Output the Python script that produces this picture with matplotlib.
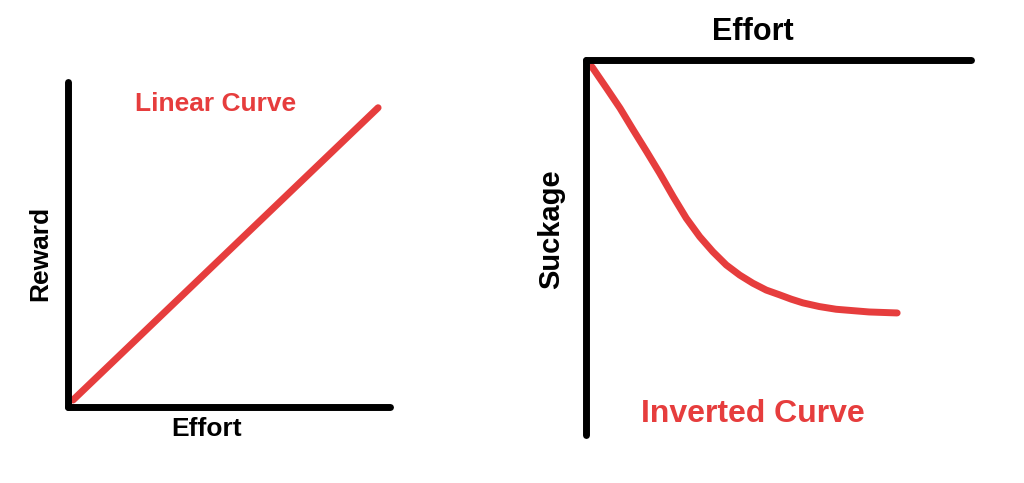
import matplotlib
matplotlib.use("Agg")
import matplotlib.pyplot as plt

# Data
linear_effort = [0, 10]
linear_reward = [0, 10]

inv_effort = [0, 0.48, 0.92, 1.35, 1.79, 2.22, 2.66, 3.09, 3.53, 3.96, 4.40,
              4.84, 5.27, 5.71, 6.14, 6.53, 6.91, 7.45, 8.00, 9.08, 10.0]
inv_suckage = [10, 9.13, 8.32, 7.44, 6.56, 5.68, 4.73, 3.85, 3.10, 2.49, 1.95,
               1.54, 1.21, 0.93, 0.74, 0.56, 0.41, 0.26, 0.15, 0.04, 0.0]

RED = "#e63d3d"
FONT = "Liberation Sans"
W, H = 1024, 483

fig = plt.figure(figsize=(W / 100, H / 100), dpi=100)
fig.patch.set_facecolor("white")


def box(x0, y0, x1, y1):
    return [x0 / W, 1 - y1 / H, (x1 - x0) / W, (y1 - y0) / H]


# Left panel
ax1 = fig.add_axes(box(68, 82, 390, 407))
ax1.plot(linear_effort, linear_reward, color=RED, lw=5.0, solid_capstyle="round")
ax1.set_xlim(-0.164, 10.39)
ax1.set_ylim(-0.238, 10.88)
for s in ["top", "right"]:
    ax1.spines[s].set_visible(False)
for s in ["left", "bottom"]:
    ax1.spines[s].set_linewidth(5.0)
    ax1.spines[s].set_color("black")
    ax1.spines[s].set_capstyle("round")
ax1.set_xticks([])
ax1.set_yticks([])
ax1.patch.set_alpha(0)

# Right panel
ax2 = fig.add_axes(box(586, 60, 971, 435))
ax2.plot(inv_effort, inv_suckage, color=RED, lw=5.0, solid_capstyle="round",
         solid_joinstyle="round")
ax2.set_xlim(-0.196, 12.42)
ax2.set_ylim(-4.96, 10.28)
for s in ["bottom", "right"]:
    ax2.spines[s].set_visible(False)
for s in ["left", "top"]:
    ax2.spines[s].set_linewidth(5.0)
    ax2.spines[s].set_color("black")
    ax2.spines[s].set_capstyle("round")
ax2.set_xticks([])
ax2.set_yticks([])
ax2.patch.set_alpha(0)


def ftext(x, y, s, **kw):
    fig.text(x / W, 1 - y / H, s, family=FONT, weight="bold",
             ha="center", va="center", **kw)


ftext(216, 104, "Linear Curve", color=RED, fontsize=19)
ftext(40, 253, "Reward", color="black", fontsize=19, rotation=90)
ftext(207, 429, "Effort", color="black", fontsize=19)

ftext(753, 32, "Effort", color="black", fontsize=22)
ftext(551, 229, "Suckage", color="black", fontsize=21, rotation=90)
ftext(753, 414, "Inverted Curve", color=RED, fontsize=23)

fig.savefig("out.png", dpi=100, facecolor="white")
